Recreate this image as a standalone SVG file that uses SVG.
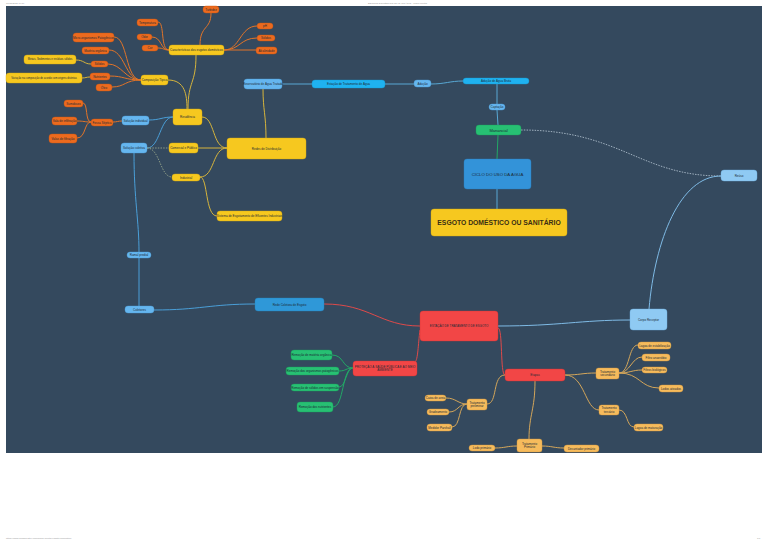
<svg xmlns="http://www.w3.org/2000/svg" width="768" height="543" viewBox="0 0 768 543">
<style>
text{font-family:"Liberation Sans","DejaVu Sans",sans-serif;text-anchor:middle;dominant-baseline:central;fill:#1d2b36;font-size:3px}
.hdr{fill:#999;font-size:2.4px;text-anchor:start}
.sm{font-size:2.6px}
.o{fill:#ec6a1e;stroke:#c95512;stroke-width:0.4}
.y{fill:#f6c81f;stroke:#d9ab10;stroke-width:0.4}
.lb{fill:#65b6ef;stroke:#4f9fd8;stroke-width:0.4}
.cy{fill:#1fb2f0;stroke:#1798cf;stroke-width:0.4}
.mb{fill:#2f98d8;stroke:#2584be;stroke-width:0.4}
.pb{fill:#8fcaf3;stroke:#6fb2e2;stroke-width:0.4}
.g{fill:#27c073;stroke:#1c9e5c;stroke-width:0.4}
.r{fill:#f24646;stroke:#d43434;stroke-width:0.4}
.lo{fill:#f6bb5c;stroke:#d89a3c;stroke-width:0.4}
#connectors path{fill:none;stroke-width:1}
.cyc{stroke:#d7b53c}
.coc{stroke:#e27428}
.cbc{stroke:#4a9fd8}
.ccc{stroke:#58a8d4}
.cdc{stroke:#8a9a86;stroke-dasharray:1.5 1.2}
.crc{stroke:#de4a4a}
.cgc{stroke:#22a866}
.cloc{stroke:#d4a65a}
.cpb{stroke:#7fbbe6}
.cdash{stroke:#9fb0bf;stroke-dasharray:1.5 1.2}
</style>
<rect x="0" y="0" width="768" height="543" fill="#ffffff"/>
<text class="hdr" x="6" y="3">11/05/2021 14:19</text>
<text class="hdr" x="368" y="3">ESGOTO DOMÉSTICO OU SANITÁRIO - Mapa Mental</text>
<text class="hdr" x="6" y="538">https://www.mindmeister.com/mapa-mental-esgoto-domestico</text>
<text class="hdr" x="757" y="538">1/1</text>
<rect x="6" y="6" width="756" height="447" fill="#34495e"/>

<g id="connectors">
<path class="cyc" d="M196,55 C196,85 188,80 188,109"/>
<path class="cyc" d="M168,80 C185,80 187,95 187,109"/>
<path class="cyc" d="M263,89 C263,110 266,115 266,138"/>
<path class="cyc" d="M227,148 C212,148 215,117 202,117"/>
<path class="cyc" d="M227,148 L198,148"/>
<path class="cyc" d="M227,148 C212,148 215,177 200,177"/>
<path class="cyc" d="M200,177 C208,177 205,216 217,216"/>
<path class="cyc" d="M76,60 C84,60 84,64 91,64"/>
<path class="cyc" d="M82,78 C86,78 86,77 90,77"/>
<path class="coc" d="M169,50 C160,50 165,22 158,22"/>
<path class="coc" d="M169,50 C160,50 162,37 152,37"/>
<path class="coc" d="M169,50 C163,50 164,48 158,48"/>
<path class="coc" d="M224,50 C240,50 240,26 257,26"/>
<path class="coc" d="M224,50 C240,50 240,38 257,38"/>
<path class="coc" d="M224,50 L256,50"/>
<path class="coc" d="M200,45 C200,25 211,30 211,13"/>
<path class="coc" d="M141,80 C125,80 128,37 114,37"/>
<path class="coc" d="M141,80 C125,80 125,50 109,50"/>
<path class="coc" d="M141,80 C125,80 122,64 108,64"/>
<path class="coc" d="M141,80 C125,80 124,76 110,76"/>
<path class="coc" d="M141,80 C125,80 125,87 112,87"/>
<path class="coc" d="M122,121 C118,121 117,122 113,122"/>
<path class="coc" d="M91,122 C85,122 88,103 83,103"/>
<path class="coc" d="M91,122 C84,122 84,121 77,121"/>
<path class="coc" d="M91,122 C84,122 86,138 77,138"/>
<path class="cbc" d="M149,120 C160,120 162,117 173,117"/>
<path class="cbc" d="M147,148 C160,148 160,117 173,117"/>
<path class="cbc" d="M134,153 C134,200 139,220 139,252"/>
<path class="cbc" d="M139,258 L139,306"/>
<path class="cbc" d="M154,310 C200,310 210,304 255,304"/>
<path class="cdc" d="M147,148 L169,148"/>
<path class="cdc" d="M147,148 C160,148 160,177 172,177"/>
<path class="ccc" d="M282,84 L312,84"/>
<path class="ccc" d="M385,84 L414,84"/>
<path class="ccc" d="M431,84 C445,84 450,81 463,81"/>
<path class="ccc" d="M497,84 L497,104"/>
<path class="ccc" d="M497,110 L498,125"/>
<path class="cgc" d="M498,135 L497,159"/>
<path class="ccc" d="M497,189 L497,209"/>
<path class="cdash" d="M521,130 C620,130 640,176 721,176"/>
<path class="cpb" d="M721,176 C680,176 655,240 649,309"/>
<path class="cpb" d="M498,326 C560,326 580,320 630,320"/>
<path class="crc" d="M324,304 C370,304 380,326 420,326"/>
<path class="crc" d="M420,330 C418,345 418,360 415,362"/>
<path class="crc" d="M498,328 C503,328 500,375 505,375"/>
<path class="cgc" d="M353,368 C342,368 344,355 332,355"/>
<path class="cgc" d="M353,368 C346,368 346,371 339,371"/>
<path class="cgc" d="M353,368 C346,368 346,387 339,387"/>
<path class="cgc" d="M353,368 C342,368 344,407 333,407"/>
<path class="cloc" d="M505,375 C492,375 498,404 487,404"/>
<path class="cloc" d="M467,404 C458,404 456,398 446,398"/>
<path class="cloc" d="M467,404 C458,404 458,412 449,412"/>
<path class="cloc" d="M467,404 C458,404 461,427 452,427"/>
<path class="cloc" d="M535,381 C535,410 529,415 529,439"/>
<path class="cloc" d="M517,446 C507,446 505,448 495,448"/>
<path class="cloc" d="M542,446 C552,446 554,448 564,448"/>
<path class="cloc" d="M565,375 C580,375 582,373 596,373"/>
<path class="cloc" d="M565,375 C585,375 585,410 599,410"/>
<path class="cloc" d="M619,373 C630,373 628,345 638,345"/>
<path class="cloc" d="M619,373 C630,373 632,357 642,357"/>
<path class="cloc" d="M619,373 C630,373 632,370 642,370"/>
<path class="cloc" d="M619,373 C640,373 640,388 659,388"/>
<path class="cloc" d="M619,410 C628,410 626,427 634,427"/>
</g>

<g id="n-turbidez"><rect class="o" x="203" y="6" width="16" height="7" rx="3"/><text x="211" y="9.5">Turbidez</text></g>
<g id="n-temperatura"><rect class="o" x="137" y="19" width="21" height="7" rx="3"/><text x="147.5" y="22.5">Temperatura</text></g>
<g id="n-odor"><rect class="o" x="137" y="34" width="15" height="6" rx="3"/><text x="144.5" y="37">Odor</text></g>
<g id="n-cor"><rect class="o" x="142" y="45" width="16" height="6" rx="3"/><text x="150" y="48">Cor</text></g>
<g id="n-caracteristicas"><rect class="y" x="169" y="45" width="55" height="10" rx="3"/><text x="196.5" y="50">Características dos esgotos domésticos</text></g>
<g id="n-ph"><rect class="o" x="257" y="23" width="16" height="6" rx="3"/><text x="265" y="26">pH</text></g>
<g id="n-solidos2"><rect class="o" x="257" y="35" width="18" height="6" rx="3"/><text x="266" y="38">Sólidos</text></g>
<g id="n-alcalinidade"><rect class="o" x="256" y="47" width="21" height="7" rx="3"/><text x="266.5" y="50.5">Alcalinidade</text></g>

<g id="n-micro"><rect class="o" x="73" y="33" width="41" height="9" rx="3"/><text x="93.5" y="37.5">Micro-organismos Patogênicos</text></g>
<g id="n-materia"><rect class="o" x="82" y="47" width="27" height="7" rx="3"/><text x="95.5" y="50.5">Matéria orgânica</text></g>
<g id="n-metais"><rect class="y" x="24" y="55" width="52" height="9" rx="3"/><text class="sm" x="50" y="59.5">Metais, Sedimentos e resíduos sólidos</text></g>
<g id="n-solidos"><rect class="o" x="91" y="61" width="17" height="6" rx="3"/><text x="99.5" y="64">Sólidos</text></g>
<g id="n-variacao"><rect class="y" x="6" y="73" width="76" height="10" rx="3"/><text class="sm" x="44" y="78">Variação na composição de acordo com origens distintas</text></g>
<g id="n-nutrientes"><rect class="o" x="90" y="73" width="20" height="7" rx="3"/><text x="100" y="76.5">Nutrientes</text></g>
<g id="n-oleo"><rect class="o" x="96" y="84" width="16" height="7" rx="3"/><text x="104" y="87.5">Óleo</text></g>
<g id="n-composicao"><rect class="y" x="141" y="75" width="27" height="10" rx="3"/><text x="154.5" y="80">Composição Típica</text></g>

<g id="n-sumidouro"><rect class="o" x="64" y="100" width="19" height="7" rx="3"/><text x="73.5" y="103.5">Sumidouro</text></g>
<g id="n-vala"><rect class="o" x="52" y="117" width="25" height="8" rx="3"/><text x="64.5" y="121">Vala de infiltração</text></g>
<g id="n-valas"><rect class="o" x="49" y="134" width="28" height="9" rx="3"/><text x="63" y="138.5">Valas de filtração</text></g>
<g id="n-fossa"><rect class="o" x="91" y="119" width="22" height="7" rx="3"/><text x="102" y="122.5">Fossa Séptica</text></g>
<g id="n-sol-ind"><rect class="lb" x="122" y="116" width="27" height="9" rx="3"/><text x="135.5" y="120.5">Solução individual</text></g>
<g id="n-sol-col"><rect class="lb" x="121" y="143" width="26" height="10" rx="3"/><text x="134" y="148">Solução coletiva</text></g>
<g id="n-residencia"><rect class="y" x="173" y="109" width="29" height="16" rx="3"/><text x="187.5" y="117">Residência</text></g>
<g id="n-comercial"><rect class="y" x="169" y="143" width="29" height="10" rx="3"/><text x="183.5" y="148">Comercial e Público</text></g>
<g id="n-industrial"><rect class="y" x="172" y="174" width="28" height="7" rx="3"/><text x="186" y="177.5">Industrial</text></g>
<g id="n-redes"><rect class="y" x="227" y="138" width="79" height="21" rx="3"/><text x="266.5" y="148.5">Redes de Distribuição</text></g>
<g id="n-sistema"><rect class="y" x="217" y="211" width="65" height="10" rx="3"/><text x="249.5" y="216">Sistema de Esgotamento de Efluentes Industriais</text></g>

<g id="n-reservatorio"><rect class="lb" x="244" y="79" width="38" height="10" rx="3"/><text x="263" y="84">Reservatório de Água Tratada</text></g>
<g id="n-eta"><rect class="cy" x="312" y="80" width="73" height="8" rx="3"/><text x="348.5" y="84">Estação de Tratamento de Água</text></g>
<g id="n-aducao"><rect class="lb" x="414" y="80" width="17" height="7" rx="3"/><text x="422.5" y="83.5">Adução</text></g>
<g id="n-captacao-agua"><rect class="cy" x="463" y="78" width="66" height="6" rx="3"/><text x="496" y="81">Adução de Água Bruta</text></g>
<g id="n-captacao"><rect class="lb" x="489" y="104" width="16" height="6" rx="3"/><text x="497" y="107">Captação</text></g>
<g id="n-manancial"><rect class="g" x="476" y="125" width="45" height="10" rx="3"/><text x="498.5" y="130" style="font-size:4px">Manancial</text></g>
<g id="n-ciclo"><rect x="464" y="159" width="67" height="30" rx="3" fill="#3393d9" stroke="#2a80c0" stroke-width="0.4"/><text x="497.5" y="174" style="font-size:4.3px">CICLO DO USO DA ÁGUA</text></g>
<g id="n-esgoto"><rect class="y" x="431" y="209" width="136" height="27" rx="3"/><text x="499" y="222.5" style="font-size:6.8px;font-weight:bold;fill:#3a2f14">ESGOTO DOMÉSTICO OU SANITÁRIO</text></g>
<g id="n-reuso"><rect class="pb" x="721" y="170" width="36" height="11" rx="3"/><text x="739" y="175.5">Reúso</text></g>

<g id="n-ramal"><rect class="lb" x="127" y="252" width="24" height="6" rx="3"/><text x="139" y="255">Ramal predial</text></g>
<g id="n-coletores"><rect class="lb" x="125" y="306" width="29" height="7" rx="3"/><text x="139.5" y="309.5">Coletores</text></g>
<g id="n-rede-coletora"><rect class="mb" x="255" y="298" width="69" height="13" rx="3"/><text x="289.5" y="304.5">Rede Coletora de Esgoto</text></g>
<g id="n-ete"><rect class="r" x="420" y="311" width="78" height="30" rx="3"/><text x="459" y="326">ESTAÇÃO DE TRATAMENTO DE ESGOTO</text></g>
<g id="n-corpo"><rect class="pb" x="630" y="309" width="37" height="21" rx="3"/><text x="648.5" y="319.5">Corpo Receptor</text></g>
<g id="n-protecao"><rect class="r" x="353" y="361" width="64" height="15" rx="3"/><text x="385" y="368.5"><tspan x="385" dy="-1.7">PROTEÇÃO À SAÚDE PÚBLICA E AO MEIO</tspan><tspan x="385" dy="3.4">AMBIENTE</tspan></text></g>
<g id="n-rem-mo"><rect class="g" x="291" y="350" width="41" height="10" rx="3"/><text x="311.5" y="355">Remoção de matéria orgânica</text></g>
<g id="n-rem-pat"><rect class="g" x="286" y="367" width="53" height="8" rx="3"/><text x="312.5" y="371">Remoção dos organismos patogênicos</text></g>
<g id="n-rem-sol"><rect class="g" x="291" y="384" width="48" height="7" rx="3"/><text x="315" y="387.5">Remoção de sólidos em suspensão</text></g>
<g id="n-rem-nut"><rect class="g" x="297" y="402" width="36" height="10" rx="3"/><text x="315" y="407">Remoção dos nutrientes</text></g>

<g id="n-etapas"><rect class="r" x="505" y="369" width="60" height="12" rx="3"/><text x="535" y="375">Etapas</text></g>
<g id="n-preliminar"><rect class="lo" x="467" y="399" width="20" height="11" rx="2.5"/><text x="477" y="404.5"><tspan x="477" dy="-1.6">Tratamento</tspan><tspan x="477" dy="3.2">preliminar</tspan></text></g>
<g id="n-caixa"><rect class="lo" x="425" y="395" width="21" height="6" rx="3"/><text x="435.5" y="398">Caixa de areia</text></g>
<g id="n-grade"><rect class="lo" x="427" y="409" width="22" height="6" rx="3"/><text x="438" y="412">Gradeamento</text></g>
<g id="n-parshall"><rect class="lo" x="427" y="424" width="25" height="7" rx="3"/><text x="439.5" y="427.5">Medidor Parshall</text></g>
<g id="n-primario"><rect class="lo" x="517" y="439" width="25" height="13" rx="2.5"/><text x="529.5" y="445.5"><tspan x="529.5" dy="-1.6">Tratamento</tspan><tspan x="529.5" dy="3.2">Primário</tspan></text></g>
<g id="n-lodo"><rect class="lo" x="469" y="445" width="26" height="6" rx="3"/><text x="482" y="448">Lodo primário</text></g>
<g id="n-decantador"><rect class="lo" x="564" y="445" width="35" height="7" rx="3"/><text x="581.5" y="448.5">Decantador primário</text></g>
<g id="n-secundario"><rect class="lo" x="596" y="368" width="23" height="11" rx="2.5"/><text x="607.5" y="373.5"><tspan x="607.5" dy="-1.6">Tratamento</tspan><tspan x="607.5" dy="3.2">secundário</tspan></text></g>
<g id="n-lagoa-est"><rect class="lo" x="638" y="342" width="33" height="7" rx="3"/><text x="654.5" y="345.5">Lagoa de estabilização</text></g>
<g id="n-filtro-an"><rect class="lo" x="642" y="354" width="28" height="7" rx="3"/><text x="656" y="357.5">Filtro anaeróbio</text></g>
<g id="n-filtros-bio"><rect class="lo" x="642" y="367" width="25" height="6" rx="3"/><text x="654.5" y="370">Filtros biológicos</text></g>
<g id="n-lodos-at"><rect class="lo" x="659" y="385" width="24" height="7" rx="3"/><text x="671" y="388.5">Lodos ativados</text></g>
<g id="n-terciario"><rect class="lo" x="599" y="405" width="20" height="10" rx="2.5"/><text x="609" y="410"><tspan x="609" dy="-1.6">Tratamento</tspan><tspan x="609" dy="3.2">terciário</tspan></text></g>
<g id="n-lagoa-mat"><rect class="lo" x="634" y="424" width="29" height="7" rx="3"/><text x="648.5" y="427.5">Lagoa de maturação</text></g>
</svg>
